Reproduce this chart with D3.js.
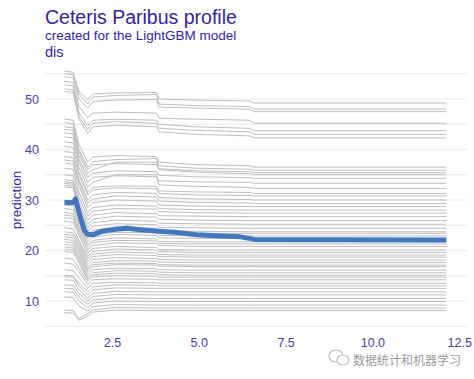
<!DOCTYPE html>
<html>
<head>
<meta charset="utf-8">
<script src="https://cdn.jsdelivr.net/npm/d3@7.9.0/dist/d3.min.js"></script>
<style>
  body { margin: 0; background: #fff; }
  svg { display: block; font-family: "Liberation Sans", Arial, sans-serif; }
</style>
</head>
<body>
<svg width="474" height="379"></svg>
<script>
// dis values where every grey profile is sampled
const disGrid = [1.13, 1.38, 1.55, 1.8, 1.95, 2.6, 3.78, 3.85, 4.9, 6.45, 6.6, 12.13];

// individual ceteris paribus profiles (prediction at each disGrid value)
const profiles = [
  [55.5, 55.3, 51.5, 49.8, 51.0, 51.2, 51.3, 50.0, 49.8, 49.6, 49.2, 49.2],
  [55.0, 54.8, 51.0, 49.0, 50.4, 50.7, 50.9, 49.0, 48.7, 48.5, 48.0, 48.0],
  [54.4, 54.2, 50.0, 48.2, 49.5, 49.8, 49.9, 48.4, 48.2, 48.0, 47.5, 47.5],
  [53.5, 53.3, 48.5, 46.3, 47.2, 47.4, 47.2, 46.2, 46.0, 45.8, 45.2, 45.2],
  [52.8, 52.6, 47.2, 44.8, 45.8, 46.0, 45.8, 45.0, 44.5, 44.2, 43.7, 43.7],
  [52.0, 51.8, 46.5, 44.0, 45.2, 45.5, 45.2, 44.2, 43.8, 43.5, 43.0, 43.0],
  [51.5, 51.3, 46.0, 43.2, 44.5, 44.8, 44.5, 43.5, 43.0, 42.7, 42.3, 42.3],
  [46.0, 45.8, 41.0, 37.5, 38.5, 38.8, 38.6, 37.5, 37.0, 36.8, 36.5, 36.5],
  [45.3, 45.1, 40.0, 36.5, 37.6, 38.0, 38.2, 36.8, 36.3, 36.1, 35.9, 35.9],
  [44.5, 44.3, 39.5, 36.0, 37.0, 37.2, 37.0, 36.2, 35.8, 35.6, 35.4, 35.4],
  [44.0, 43.8, 38.8, 35.3, 36.0, 37.5, 37.5, 36.0, 35.5, 35.2, 35.0, 35.0],
  [43.3, 43.1, 38.0, 34.5, 35.3, 35.8, 35.6, 34.9, 34.6, 34.4, 34.3, 34.3],
  [42.5, 42.3, 37.5, 33.5, 34.5, 34.8, 34.6, 33.8, 33.6, 33.5, 33.3, 33.3],
  [41.5, 41.3, 36.5, 32.5, 33.5, 35.0, 35.0, 33.0, 32.7, 32.5, 32.3, 32.3],
  [40.6, 40.4, 35.5, 31.5, 32.5, 32.8, 32.7, 31.8, 31.6, 31.5, 31.3, 31.3],
  [39.6, 39.4, 35.0, 31.0, 32.0, 32.4, 32.2, 31.3, 31.0, 30.9, 30.8, 30.8],
  [38.6, 38.4, 34.0, 30.0, 31.0, 31.5, 31.3, 30.5, 30.2, 30.1, 30.0, 30.0],
  [37.9, 37.7, 33.5, 29.3, 30.2, 30.8, 30.6, 29.8, 29.5, 29.4, 29.3, 29.3],
  [37.3, 37.1, 32.8, 28.5, 29.5, 30.0, 29.8, 29.0, 28.8, 28.7, 28.7, 28.7],
  [36.3, 36.1, 31.5, 27.5, 28.5, 29.0, 28.8, 28.3, 28.1, 28.0, 28.0, 28.0],
  [35.0, 34.8, 30.5, 26.8, 27.8, 28.3, 28.2, 27.7, 27.5, 27.4, 27.4, 27.4],
  [34.0, 33.8, 29.5, 26.0, 27.0, 27.5, 27.3, 26.9, 26.8, 26.7, 26.7, 26.7],
  [33.6, 33.4, 29.0, 25.2, 26.2, 26.8, 26.6, 26.2, 26.0, 25.9, 25.9, 25.9],
  [33.3, 33.1, 28.5, 24.5, 25.5, 26.0, 25.8, 25.4, 25.3, 25.2, 25.2, 25.2],
  [32.9, 32.7, 28.0, 23.8, 24.8, 25.3, 25.1, 24.6, 24.5, 24.4, 24.4, 24.4],
  [32.6, 32.4, 27.5, 23.0, 24.0, 24.6, 24.4, 23.9, 23.8, 23.7, 23.7, 23.7],
  [30.0, 29.8, 26.5, 22.8, 23.6, 24.2, 24.0, 23.5, 23.4, 23.4, 23.4, 23.4],
  [29.0, 28.8, 25.5, 22.3, 23.2, 23.6, 23.5, 23.0, 22.9, 22.9, 22.9, 22.9],
  [28.3, 28.1, 25.0, 21.8, 22.7, 23.2, 23.0, 22.5, 22.4, 22.4, 22.4, 22.4],
  [27.5, 27.3, 24.5, 21.2, 22.0, 22.5, 22.3, 21.8, 21.7, 21.7, 21.7, 21.7],
  [27.0, 26.8, 24.0, 20.8, 21.6, 22.0, 21.9, 21.4, 21.3, 21.3, 21.3, 21.3],
  [26.5, 26.3, 23.5, 20.2, 21.0, 21.5, 21.4, 21.0, 20.8, 20.8, 20.8, 20.8],
  [25.8, 25.6, 23.0, 19.5, 20.4, 20.8, 20.6, 20.2, 20.1, 20.1, 20.1, 20.1],
  [24.5, 24.3, 22.0, 18.8, 19.8, 20.3, 20.1, 19.8, 19.6, 19.6, 19.6, 19.6],
  [23.7, 23.5, 21.5, 18.3, 19.3, 19.7, 19.5, 19.2, 19.1, 19.1, 19.1, 19.1],
  [23.2, 23.0, 21.0, 17.8, 18.8, 19.2, 19.0, 18.8, 18.7, 18.7, 18.7, 18.7],
  [22.7, 22.5, 20.5, 17.2, 18.2, 18.6, 18.4, 18.2, 18.1, 18.1, 18.1, 18.1],
  [22.2, 22.0, 20.0, 16.6, 17.6, 18.0, 17.9, 17.7, 17.6, 17.6, 17.6, 17.6],
  [21.7, 21.5, 19.5, 16.2, 17.2, 17.5, 17.4, 17.2, 17.1, 17.1, 17.1, 17.1],
  [21.2, 21.0, 19.0, 15.8, 16.8, 17.2, 17.1, 16.9, 16.8, 16.8, 16.8, 16.8],
  [20.7, 20.5, 18.5, 15.2, 16.2, 16.5, 16.4, 16.2, 16.1, 16.1, 16.1, 16.1],
  [20.3, 20.1, 18.0, 14.6, 15.6, 16.0, 15.9, 15.7, 15.6, 15.6, 15.6, 15.6],
  [19.8, 19.6, 17.5, 14.2, 15.2, 15.5, 15.4, 15.2, 15.1, 15.1, 15.1, 15.1],
  [18.5, 18.3, 16.5, 13.8, 14.8, 15.0, 14.9, 14.7, 14.7, 14.7, 14.7, 14.7],
  [17.5, 17.3, 15.8, 13.2, 14.2, 14.4, 14.3, 14.2, 14.2, 14.2, 14.2, 14.2],
  [16.2, 16.0, 14.5, 12.5, 13.5, 13.7, 13.6, 13.5, 13.5, 13.5, 13.5, 13.5],
  [15.1, 15.0, 13.5, 11.8, 12.8, 13.2, 13.1, 13.0, 13.0, 13.0, 13.0, 13.0],
  [14.8, 14.7, 13.0, 11.2, 12.2, 12.6, 12.5, 12.5, 12.5, 12.5, 12.5, 12.5],
  [14.2, 14.1, 12.2, 10.5, 11.5, 11.9, 11.8, 11.8, 11.8, 11.8, 11.8, 11.8],
  [13.2, 13.1, 11.5, 10.0, 10.9, 11.3, 11.2, 11.2, 11.2, 11.2, 11.2, 11.2],
  [12.5, 12.4, 10.8, 9.3, 10.2, 10.6, 10.5, 10.5, 10.5, 10.5, 10.5, 10.5],
  [11.8, 11.7, 10.0, 8.6, 9.6, 10.0, 9.9, 9.9, 9.9, 9.9, 9.9, 9.9],
  [10.8, 10.7, 9.0, 8.0, 8.9, 9.3, 9.2, 9.2, 9.2, 9.2, 9.2, 9.2],
  [8.2, 8.1, 6.5, 7.5, 8.2, 8.7, 8.6, 8.6, 8.6, 8.6, 8.6, 8.6],
  [7.7, 7.6, 6.2, 7.0, 7.8, 8.2, 8.1, 8.1, 8.1, 8.1, 8.1, 8.1]
];

// aggregated (average) profile
const avgDis  = [1.13, 1.38, 1.45, 1.55, 1.7, 1.8, 1.95, 2.2, 2.6, 2.95, 3.3, 3.85, 4.3, 4.95, 5.5, 6.2, 6.6, 12.13];
const avgPred = [29.5, 29.5, 30.2, 27.5, 24.0, 23.2, 23.1, 23.8, 24.2, 24.4, 24.1, 23.8, 23.6, 23.1, 22.9, 22.7, 22.2, 22.1];

const xTicks = [2.5, 5.0, 7.5, 10.0, 12.5];
const yTicks = [10, 20, 30, 40, 50];
const yMinor = [5, 15, 25, 35, 45, 55];

const purple = '#371ea3';
const tickPurple = '#4b3cab';
const svg = d3.select('svg');

const x = d3.scaleLinear().domain([0, 12.5]).range([25.2, 459.2]);
const y = d3.scaleLinear().domain([5, 55]).range([326.25, 73.75]);

// horizontal grid
svg.append('g')
  .selectAll('line')
  .data(yTicks.concat(yMinor))
  .join('line')
  .attr('x1', 45).attr('x2', 467)
  .attr('y1', d => y(d)).attr('y2', d => y(d))
  .attr('stroke', '#ebebeb')
  .attr('stroke-width', 1);

// y axis labels
svg.append('g')
  .call(d3.axisLeft(y).tickValues(yTicks).tickSize(0).tickPadding(0))
  .attr('transform', 'translate(39,0)')
  .call(g => g.select('.domain').remove())
  .selectAll('text')
  .attr('fill', tickPurple)
  .attr('font-size', 12.5)
  .attr('font-family', '"Liberation Sans", Arial, sans-serif');

// x axis labels
svg.append('g')
  .call(d3.axisBottom(x).tickValues(xTicks).tickFormat(d3.format('.1f')).tickSize(0).tickPadding(0))
  .attr('transform', 'translate(0,338)')
  .call(g => g.select('.domain').remove())
  .selectAll('text')
  .attr('fill', tickPurple)
  .attr('font-size', 12.5)
  .attr('font-family', '"Liberation Sans", Arial, sans-serif');

// grey profiles
const line = d3.line()
  .x((d, i) => x(disGrid[i]))
  .y(d => y(d));

svg.append('g')
  .selectAll('path')
  .data(profiles)
  .join('path')
  .attr('d', line)
  .attr('fill', 'none')
  .attr('stroke', '#bdbdbd')
  .attr('stroke-width', 1);

// blue aggregated profile
const avgLine = d3.line()
  .x((d, i) => x(avgDis[i]))
  .y(d => y(d));

svg.append('path')
  .datum(avgPred)
  .attr('d', avgLine)
  .attr('fill', 'none')
  .attr('stroke', '#4378bf')
  .attr('stroke-width', 5)
  .attr('stroke-linejoin', 'round');

// y axis title
svg.append('text')
  .attr('transform', 'translate(21,200) rotate(-90)')
  .attr('text-anchor', 'middle')
  .attr('fill', purple)
  .attr('font-size', 13.5)
  .text('prediction');

// titles
svg.append('text').attr('x', 45).attr('y', 23.5)
  .attr('fill', purple).attr('font-size', 19.5).text('Ceteris Paribus profile');
svg.append('text').attr('x', 45).attr('y', 40)
  .attr('fill', purple).attr('font-size', 13.5).text('created for the LightGBM model');
svg.append('text').attr('x', 45).attr('y', 57)
  .attr('fill', purple).attr('font-size', 14.5).text('dis');

// watermark
const wm = svg.append('g').attr('opacity', 0.75);
wm.append('ellipse').attr('cx', 336).attr('cy', 356).attr('rx', 7).attr('ry', 6)
  .attr('fill', '#fff').attr('stroke', '#aaa').attr('stroke-width', 1.2);
wm.append('ellipse').attr('cx', 343).attr('cy', 360).attr('rx', 6).attr('ry', 5)
  .attr('fill', '#fff').attr('stroke', '#aaa').attr('stroke-width', 1.2);
wm.append('text').attr('x', 353).attr('y', 365)
  .attr('fill', '#777').attr('font-size', 12)
  .attr('font-family', '"Noto Sans CJK SC", sans-serif')
  .attr('stroke', '#fff').attr('stroke-width', 2).attr('paint-order', 'stroke')
  .text('数据统计和机器学习');
</script>
</body>
</html>
